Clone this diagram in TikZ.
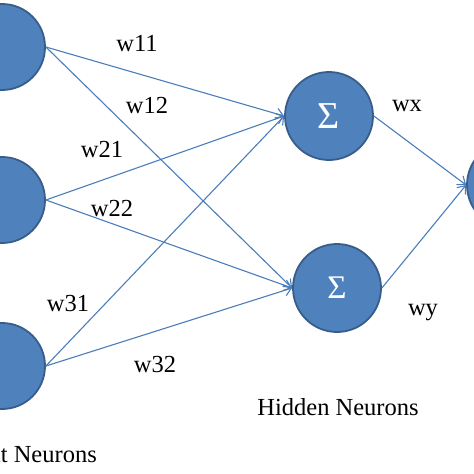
\documentclass[tikz,border=0pt]{standalone}
\usepackage{fontspec}
\setmainfont{Liberation Serif}
\usetikzlibrary{arrows.meta}
\definecolor{nfill}{HTML}{4F81BD}
\definecolor{nline}{HTML}{385D8A}
\definecolor{eline}{HTML}{4A7EBB}
\tikzset{
  neuron/.style={circle, fill=nfill, draw=nline, line width=1.8pt, minimum size=86pt, inner sep=0pt, text=white},
  conn/.style={draw=eline, line width=1.1pt, -{Straight Barb[length=7pt,width=11pt,line width=1.1pt]}},
  lbl/.style={font=\fontsize{24.5}{28}\selectfont, inner sep=0pt},
}
\begin{document}
\begin{tikzpicture}[x=1pt,y=-1pt]
\useasboundingbox (0,0) rectangle (474,474);
\clip (0,0) rectangle (474,474);
\fill[white] (0,0) rectangle (474,474);
% input neurons
\node[neuron] (i1) at (2,47) {};
\node[neuron] (i2) at (2,200) {};
\node[neuron] (i3) at (2,366) {};
% hidden neurons
\node[neuron, minimum size=88pt, font=\fontsize{38}{40}\selectfont] (h1) at (329,116) {Σ};
\node[neuron, minimum size=88pt, font=\fontsize{33}{35}\selectfont] (h2) at (337,288) {Σ};
% output neuron
\node[neuron, minimum size=88pt] (o) at (511,185) {};
% connectors
\draw[conn] (i1.east) -- (h1.west);
\draw[conn] (i1.east) -- (h2.west);
\draw[conn] (i2.east) -- (h1.west);
\draw[conn] (i2.east) -- (h2.west);
\draw[conn] (i3.east) -- (h1.west);
\draw[conn] (i3.east) -- (h2.west);
\draw[conn] (h1.east) -- (o.west);
\draw[conn] (h2.east) -- (o.west);
% labels
\node[lbl] (l11) at (137,44) {w11};
\node[lbl] (l12) at (147,106) {w12};
\node[lbl] (l21) at (102,150) {w21};
\node[lbl] (l22) at (112,209) {w22};
\node[lbl] (l31) at (68,304) {w31};
\node[lbl] (l32) at (155,365) {w32};
\node[lbl] (lx) at (407,106) {wx};
\node[lbl] (ly) at (423,313) {wy};
\node[lbl] (hid) at (338,407) {Hidden Neurons};
\node[lbl, anchor=east] (inp) at (97,457) {Input Neurons};
\end{tikzpicture}
\end{document}
